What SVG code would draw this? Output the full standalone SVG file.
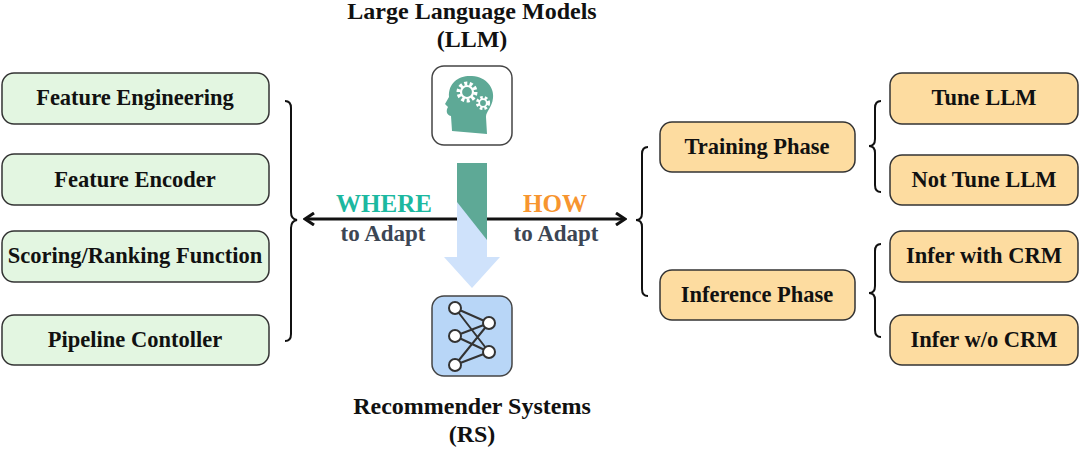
<svg xmlns="http://www.w3.org/2000/svg" width="1080" height="449" viewBox="0 0 1080 449">
<style>
text{font-family:"Liberation Serif","DejaVu Serif",serif;font-weight:bold;text-anchor:middle}
.g{fill:#e3f6e1;stroke:#333;stroke-width:1.5}
.o{fill:#fddca0;stroke:#333;stroke-width:1.5}
.l{font-size:22.5px;fill:#111}
.t{font-size:24px;fill:#111}
.br{fill:none;stroke:#111;stroke-width:2}
.nn{fill:#fff;stroke:#333;stroke-width:2}
</style>
<defs><marker id="ah" markerWidth="12" markerHeight="14" refX="9" refY="7" orient="auto-start-reverse" markerUnits="userSpaceOnUse"><path d="M1,1 L10,7 L1,13" fill="none" stroke="#111" stroke-width="3"/></marker></defs>
<text x="472" y="19" class="t">Large Language Models</text>
<text x="472" y="47" class="t">(LLM)</text>
<text x="472" y="414" class="t">Recommender Systems</text>
<text x="472" y="442" class="t">(RS)</text>
<g id="llm"><rect x="432" y="66" width="80" height="79" rx="12" fill="#fff" stroke="#444" stroke-width="1.5"/>
<path d="M452,131 L451,116 C446,115 446,110 448,107 L445,104 L449,97 C448,82 460,75 472,76 C487,77 494,88 493,98 C492,108 486,111 486,117 L487,134 Z" fill="#5ea996"/>
<circle cx="467" cy="92" r="8.5" fill="none" stroke="#fff" stroke-width="4" stroke-dasharray="3 2.3"/>
<circle cx="467" cy="92" r="6" fill="none" stroke="#fff" stroke-width="2.2"/>
<circle cx="483" cy="103" r="5.5" fill="none" stroke="#fff" stroke-width="3.2" stroke-dasharray="2.5 2"/>
<circle cx="483" cy="103" r="3.8" fill="none" stroke="#fff" stroke-width="1.8"/></g>
<g id="rs"><rect x="432" y="296" width="80" height="80" rx="12" fill="#b8d6f7" stroke="#444" stroke-width="1.5"/>
<g stroke="#333" stroke-width="2"><path d="M455,308 L489,323 M455,308 L489,352 M455,336 L489,323 M455,336 L489,352 M455,365 L489,323 M455,365 L489,352"/></g>
<circle cx="455" cy="308" r="6" class="nn"/><circle cx="455" cy="336" r="6" class="nn"/><circle cx="455" cy="365" r="6" class="nn"/><circle cx="489" cy="323" r="6" class="nn"/><circle cx="489" cy="352" r="6" class="nn"/></g>
<g id="bigarrow"><path d="M457,202 L487,202 L487,257 L500,257 L472,288 L444,257 L457,257 Z" fill="#cfe2fb"/>
<path d="M457,163 L487,163 L487,240 L457,202 Z" fill="#5ea996"/></g>
<g id="connectors">
<line x1="306" y1="219" x2="457" y2="219" stroke="#111" stroke-width="3" marker-start="url(#ah)"/>
<line x1="487" y1="219" x2="624" y2="219" stroke="#111" stroke-width="3" marker-end="url(#ah)"/>
<path class="br" d="M285,101 Q291,101 291,108 L291,212 Q291,219 297,220 Q291,221 291,228 L291,334 Q291,341 285,341"/>
<path class="br" d="M648,147 Q642,147 642,154 L642,213 Q642,220 636,220 Q642,220 642,227 L642,289 Q642,296 648,296"/>
<path class="br" d="M881,101 Q875,101 875,108 L875,139 Q875,146 869,146 Q875,146 875,153 L875,185 Q875,192 881,192"/>
<path class="br" d="M881,244 Q875,244 875,251 L875,286 Q875,293 869,293 Q875,293 875,300 L875,330 Q875,337 881,337"/>
</g>
<text x="384" y="212" style="font-size:25px;fill:#1cb8a0">WHERE</text>
<text x="383" y="241" style="font-size:23px;fill:#3c4654">to Adapt</text>
<text x="555" y="212" style="font-size:25px;fill:#f7952f">HOW</text>
<text x="556" y="241" style="font-size:23px;fill:#3c4654">to Adapt</text>
<g id="fe"><rect x="2" y="73" width="267" height="51" rx="12" class="g"/><text x="135" y="105" class="l">Feature Engineering</text></g>
<g id="fenc"><rect x="2" y="154" width="267" height="51" rx="12" class="g"/><text x="135" y="187" class="l">Feature Encoder</text></g>
<g id="score"><rect x="2" y="231" width="267" height="51" rx="12" class="g"/><text x="135" y="263" class="l">Scoring/Ranking Function</text></g>
<g id="pipe"><rect x="2" y="315" width="267" height="50" rx="12" class="g"/><text x="135" y="347" class="l">Pipeline Contoller</text></g>
<g id="train"><rect x="660" y="122" width="195" height="50" rx="12" class="o"/><text x="757" y="154" class="l">Training Phase</text></g>
<g id="infer"><rect x="660" y="270" width="195" height="50" rx="12" class="o"/><text x="757" y="302" class="l">Inference Phase</text></g>
<g id="tune"><rect x="890" y="73" width="188" height="51" rx="12" class="o"/><text x="984" y="105" class="l">Tune LLM</text></g>
<g id="notune"><rect x="890" y="155" width="188" height="50" rx="12" class="o"/><text x="984" y="187" class="l">Not Tune LLM</text></g>
<g id="icrm"><rect x="890" y="231" width="188" height="51" rx="12" class="o"/><text x="984" y="263" class="l">Infer with CRM</text></g>
<g id="inocrm"><rect x="890" y="315" width="188" height="50" rx="12" class="o"/><text x="984" y="347" class="l">Infer w/o CRM</text></g>
</svg>
